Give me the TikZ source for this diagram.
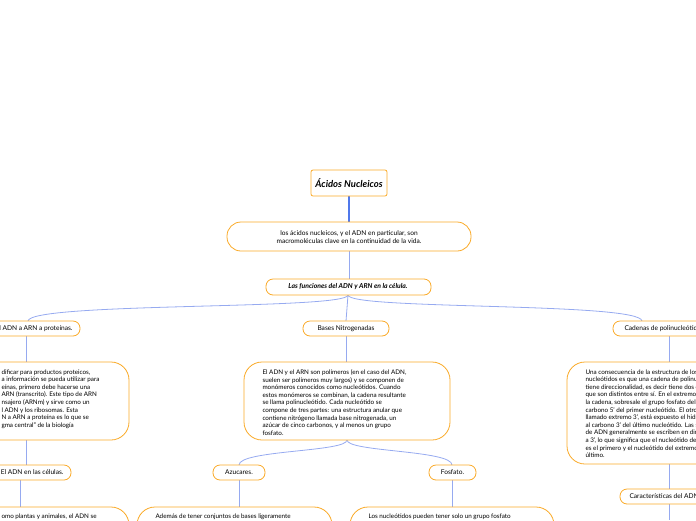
\documentclass[tikz,border=0pt]{standalone}
\usepackage{fontspec}
\setmainfont{Lato}
\definecolor{lnkc}{RGB}{150,170,240}
\definecolor{lnkd}{RGB}{80,120,235}
\definecolor{orng}{RGB}{250,170,40}
\begin{document}
\begin{tikzpicture}[x=1pt,y=-1pt,
  box/.style={draw=orng,line width=0.8pt,rounded corners=7pt,fill=white,inner sep=0pt},
  pbox/.style={draw=orng,line width=0.8pt,rounded corners=18pt,fill=white},
  lnk/.style={draw=lnkc,line width=0.8pt},
  t/.style={font=\fontsize{6.3}{7.6}\selectfont,align=left,anchor=north west},
  h/.style={font=\fontsize{6.6}{7.8}\selectfont}]
\useasboundingbox (0,0) rectangle (696,520);
\clip (0,0) rectangle (696,520);
% connectors
\draw[lnk,draw=lnkd,line width=1.1pt] (349,196) -- (349,222);
\draw[lnk] (349,251) -- (349,279);
\coordinate (f) at (348,295);
\draw[lnk] (f) .. controls (348,310) and (30,302) .. (28,321);
\draw[lnk] (f) -- (346,321);
\draw[lnk] (f) .. controls (348,310) and (640,302) .. (642,321);
\draw[lnk] (26,336) -- (26,362); \draw[lnk] (26,440) -- (26,465); \draw[lnk] (20,480) -- (20,507);
\draw[lnk] (346,336) -- (346,362);
\draw[lnk] (347,440) .. controls (347,452) and (239,450) .. (239,465);
\draw[lnk] (347,440) .. controls (347,452) and (452,450) .. (452,465);
\draw[lnk] (239,480) -- (239,507); \draw[lnk] (452,480) -- (452,507);
\draw[lnk] (669,336) -- (669,362); \draw[lnk] (669,464) -- (669,489); \draw[lnk] (669,504) -- (669,520);
% top
\draw[box,rounded corners=2pt] (311,170) rectangle (387,196);
\node (title) at (349,183) {\bfseries\itshape\fontsize{9.5}{10}\selectfont Ácidos Nucleicos};
\draw[box,rounded corners=14pt] (227,222) rectangle (471,251);
\node[h,align=center] (intro) at (349,237) {los ácidos nucleicos, y el ADN en particular, son\\macromoléculas clave en la continuidad de la vida.};
\draw[box] (266,279) rectangle (431,295);
\node (fun) at (348,287) {\bfseries\itshape\fontsize{6.8}{7}\selectfont Las funciones del ADN y ARN en la célula.};
% left
\draw[box] (-20,321) rectangle (80,336);
\node[h,anchor=east] (l1) at (76,328.5) {Del ADN a ARN a proteínas.};
\draw[pbox] (-40,362) rectangle (129,440);
\node[t] (lp) at (-2,366) {dificar para productos proteicos,\\a información se pueda utilizar para\\eínas, primero debe hacerse una\\ARN (transcrito). Este tipo de ARN\\nsajero (ARNm) y sirve como un\\l ADN y los ribosomas. Esta\\N a ARN a proteína es lo que se\\gma central” de la biología};
\draw[box] (-20,465) rectangle (71,480);
\node[h,anchor=east] (l2) at (67,472.5) {El ADN en las células.};
\draw[pbox] (-40,507) rectangle (129,560);
\node[t] at (-2,510) {omo plantas y animales, el ADN se};
% middle
\draw[box] (303,321) rectangle (389,336);
\node[h] (bn) at (346,328.5) {Bases Nitrogenadas};
\draw[pbox] (244,362) rectangle (450,440);
\node[t] (mp) at (259,366) {El ADN y el ARN son polímeros (en el caso del ADN,\\suelen ser polímeros muy largos) y se componen de\\monómeros conocidos como nucleótidos. Cuando\\estos monómeros se combinan, la cadena resultante\\se llama polinucleótido. Cada nucleótido se\\compone de tres partes: una estructura anular que\\contiene nitrógeno llamada base nitrogenada, un\\azúcar de cinco carbonos, y al menos un grupo\\fosfato.};
\draw[box] (213,465) rectangle (265,480);
\node[h] (az) at (239,472.5) {Azucares.};
\draw[box] (429,465) rectangle (476,480);
\node[h] (fo) at (452.5,472.5) {Fosfato.};
\draw[pbox] (137,507) rectangle (332,560);
\node[t] at (152,510) {Además de tener conjuntos de bases ligeramente};
\draw[pbox] (350,507) rectangle (554,560);
\node[t] at (365,510) {Los nucleótidos pueden tener solo un grupo fosfato};
% right
\draw[box] (613,321) rectangle (720,336);
\node[h,anchor=west] (cp) at (621,328.5) {Cadenas de polinucleótidos};
\draw[pbox] (567,362) rectangle (740,464);
\node[t] (rp) at (582,366) {Una consecuencia de la estructura de los\\nucleótidos es que una cadena de polinucleótidos\\tiene direccionalidad, es decir tiene dos extremos\\que son distintos entre sí. En el extremo 5' de\\la cadena, sobresale el grupo fosfato del\\carbono 5' del primer nucleótido. El otro extremo,\\llamado extremo 3', está expuesto el hidroxilo unido\\al carbono 3' del último nucleótido. Las secuencias\\de ADN generalmente se escriben en dirección de 5'\\a 3', lo que significa que el nucleótido del extremo 5'\\es el primero y el nucleótido del extremo 3' es el\\último.};
\draw[box] (620,489) rectangle (740,504);
\node[h,anchor=west] (ca) at (626,496.5) {Características del ADN};
\end{tikzpicture}
\end{document}
